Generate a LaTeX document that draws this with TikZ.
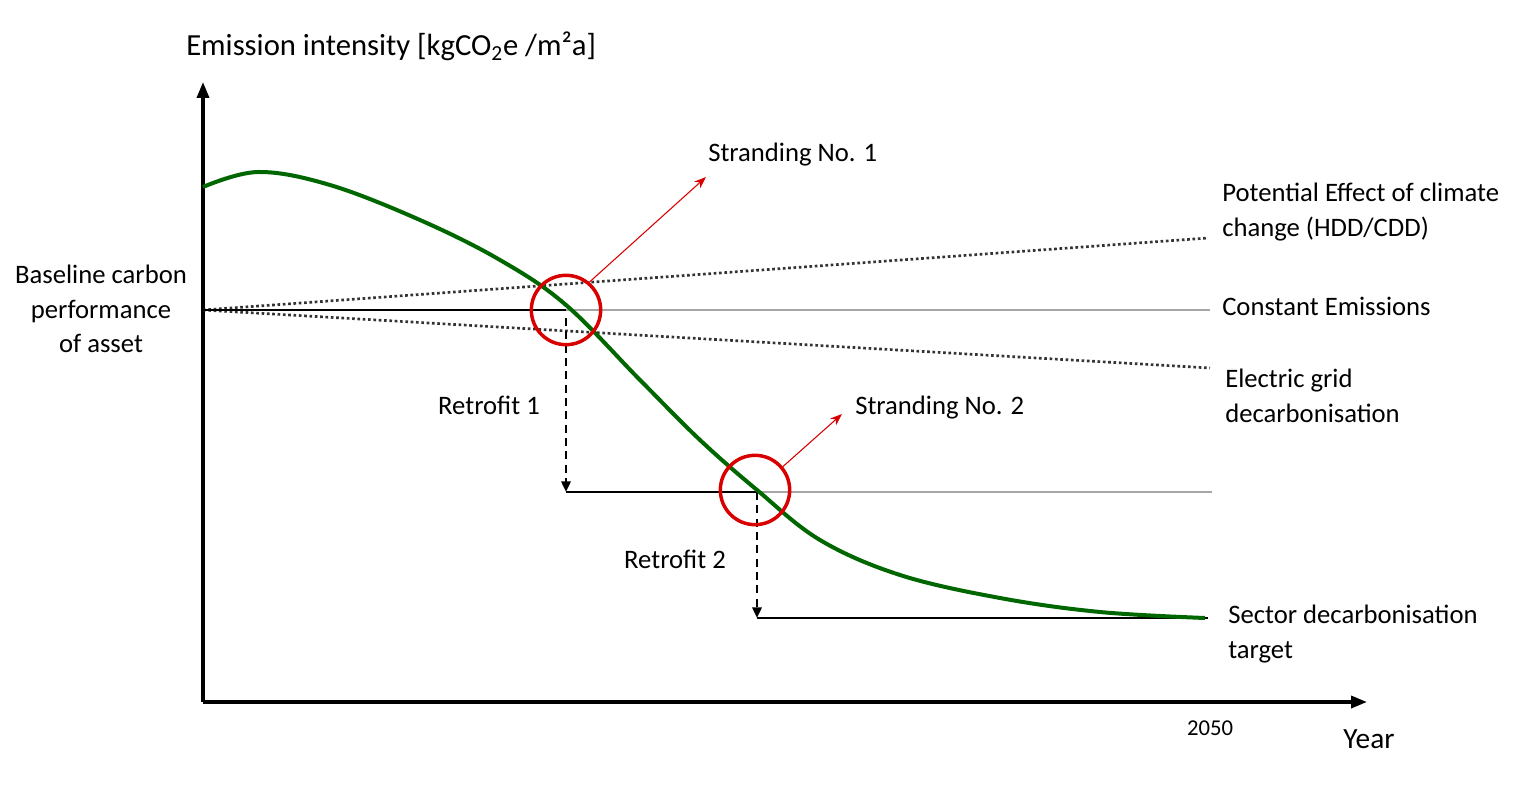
\documentclass[tikz,border=0pt]{standalone}
\usepackage{fontspec}
\setmainfont{Carlito}
\usetikzlibrary{arrows.meta}
\begin{document}
\begin{tikzpicture}[x=0.75pt,y=-0.75pt,
  txt/.style={font=\fontsize{20}{23}\selectfont,inner sep=0pt,align=left},
  axis/.style={line width=2.6pt,-{Triangle[length=12pt,width=9pt]}},
  blk/.style={line width=2pt,black},
  gry/.style={line width=1.4pt,gray!70},
  dot/.style={line width=2pt,dotted,black!80},
  dsh/.style={line width=1.8pt,dash pattern=on 6pt off 4pt,-{Triangle[length=8pt,width=7pt]}},
  red/.style={red!85!black,line width=0.8pt,-{Stealth[length=9pt]}},
  ring/.style={draw=red!85!black,line width=2.6pt,circle,minimum size=52pt,inner sep=0pt}]
\useasboundingbox (0,0) rectangle (1536,788);
\coordinate (O) at (203,702);
\coordinate (Ytop) at (203,82);
\coordinate (Xend) at (1367,702);
\draw[axis] (O) -- (Ytop);
\draw[axis] (O) -- (Xend);
% levels
\coordinate (b0) at (203,310);
\coordinate (c1) at (566,310);
\coordinate (e1) at (1210,310);
\coordinate (c2a) at (566,492);
\coordinate (c2) at (757,492);
\coordinate (e2) at (1212,492);
\coordinate (c3) at (757,618);
\coordinate (e3) at (1208,618);
\coordinate (up) at (1208,238);
\coordinate (dn) at (1210,368);
\draw[gry] (c1) -- (e1);
\draw[gry] (c2) -- (e2);
\draw[dot] (b0) -- (up);
\draw[dot] (b0) -- (dn);
\draw[blk] (b0) -- (c1);
\draw[blk] (c2a) -- (c2);
\draw[blk] (c3) -- (e3);
\draw[dsh] ([yshift=-6]c1) -- (c2a);
\draw[dsh] (c2) -- (c3);
% green curve
\draw[line width=3pt,green!40!black] plot[smooth,tension=0.6] coordinates
 {(203,187) (258,172) (330,185) (420,220) (500,260) (566,305) (640,380) (700,440) (757,490) (820,540) (900,575) (1000,598) (1100,612) (1205,618)};
% circles
\node[ring] (r1) at (566,310) {};
\node[ring] (r2) at (755,490) {};
\coordinate (s1) at (706,177);
\coordinate (s2) at (842,414);
\draw[red] (r1.50) -- (s1);
\draw[red] (r2.40) -- (s2);
% texts
\node[txt,anchor=west,font=\fontsize{23}{26}\selectfont] (ylab) at (186,46) {Emission intensity [kgCO\textsubscript{2}e /m²a]};
\node[txt,anchor=west] (t1) at (708,155) {Stranding No. 1};
\node[txt,anchor=west] (t2) at (855,408) {Stranding No. 2};
\node[txt,anchor=west] (pe) at (1222,212) {Potential Effect of climate\\[3pt]change (HDD/CDD)};
\node[txt,anchor=west] (ce) at (1222,306) {Constant Emissions};
\node[txt,anchor=west] (eg) at (1225,396) {Electric grid\\[3pt]decarbonisation};
\node[txt,anchor=west] (sd) at (1228,634) {Sector decarbonisation\\[3pt]target};
\node[txt,align=center] (bl) at (101,309) {Baseline carbon\\[3pt]performance\\[3pt]of asset};
\node[txt] (rf1) at (489,405) {Retrofit 1};
\node[txt] (rf2) at (675,559) {Retrofit 2};
\node[txt,font=\fontsize{17}{19}\selectfont] (yr) at (1210,728) {2050};
\node[txt,font=\fontsize{22}{25}\selectfont] (year) at (1369,739) {Year};
\end{tikzpicture}
\end{document}
